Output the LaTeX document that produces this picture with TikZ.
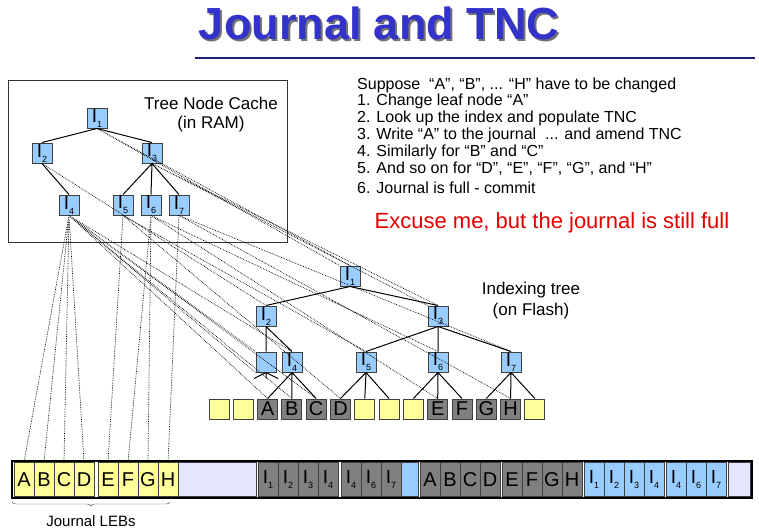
\documentclass[tikz,border=0pt]{standalone}
\usepackage{fontspec}
\setmainfont{Liberation Sans}
\usetikzlibrary{decorations.pathreplacing}
\definecolor{nb}{HTML}{99CCFF}
\definecolor{ly}{HTML}{FFFF99}
\definecolor{lv}{HTML}{E6E6FF}
\definecolor{gr}{HTML}{808080}
\definecolor{tb}{HTML}{3333CC}
\newcommand{\Ix}[1]{\fontsize{19}{19}\selectfont I\raisebox{-5pt}{\fontsize{9}{9}\selectfont #1}}
\tikzset{
 tn/.style={draw=black!75,line width=1pt,fill=nb,minimum width=20pt,minimum height=20pt,inner sep=0pt},
 lf/.style={draw=black!75,line width=1pt,fill=#1,minimum width=20pt,minimum height=20pt,inner sep=0pt,font=\fontsize{20}{20}\selectfont},
 cl/.style={draw=black!75,line width=1pt,fill=#1,minimum width=20pt,minimum height=34pt,inner sep=0pt,font=\fontsize{20}{20}\selectfont},
 dl/.style={densely dotted,line width=0.7pt},
 tx/.style={font=\fontsize{16}{18}\selectfont,anchor=west,inner sep=0pt},
 tl/.style={line width=1pt}
}
\begin{document}
\begin{tikzpicture}[x=1pt,y=-1pt]
\useasboundingbox (0,0) rectangle (759,530);
\node[text=black!55] at (381,25) {\fontsize{45}{45}\selectfont\bfseries Journal and TNC};
\node (title) [text=tb] at (379,23) {\fontsize{45}{45}\selectfont\bfseries Journal and TNC};
\draw[tb!60!black,line width=1.5pt] (195,58) -- (755,58);
% TNC box
\draw[black!80,line width=1pt] (8,80) rectangle (287,242);
\node at (211,103) {\fontsize{17}{17}\selectfont Tree Node Cache};
\node at (211,124) {\fontsize{17}{17}\selectfont (in RAM)};
\node[tn] (c1) at (97,118) {\Ix1};
\node[tn] (c2) at (42,153) {\Ix2};
\node[tn] (c3) at (152,153) {\Ix3};
\node[tn] (c4) at (69,205) {\Ix4};
\node[tn] (c5) at (123,205) {\Ix5};
\node[tn] (c6) at (151,205) {\Ix6};
\node[tn] (c7) at (179,205) {\Ix7};
\draw[tl] (c1.south) -- (c2.north) (c1.south) -- (c3.north) (c2.south) -- (c4.north)
 (c3.south) -- (c5.north) (c3.south) -- (c6.north) (c3.south) -- (c7.north);
% text
\node[tx] at (357,85) {Suppose ~“A”, “B”, ... “H” have to be changed};
\node[tx] at (357,101) {1. Change leaf node “A”};
\node[tx] at (357,118) {2. Look up the index and populate TNC};
\node[tx] at (357,135) {3. Write “A” to the journal ~... and amend TNC};
\node[tx] at (357,152) {4. Similarly for “B” and “C”};
\node[tx] at (357,169) {5. And so on for “D”, “E”, “F”, “G”, and “H”};
\node[tx] at (357,188) {6. Journal is full - commit};
\node[text=red!90!black] at (552,223) {\fontsize{22}{22}\selectfont Excuse me, but the journal is still full};
\node at (531,290) {\fontsize{17}{17}\selectfont Indexing tree};
\node at (531,311) {\fontsize{17}{17}\selectfont (on Flash)};
% flash tree
\node[tn] (f1) at (350,276) {\Ix1};
\node[tn] (f2) at (266,316) {\Ix2};
\node[tn] (f3) at (438,316) {\Ix3};
\node[tn] (f0) at (266,362) {};
\node[tn] (f4) at (292,362) {\Ix4};
\node[tn] (f5) at (366,362) {\Ix5};
\node[tn] (f6) at (438,362) {\Ix6};
\node[tn] (f7) at (511,362) {\Ix7};
\foreach \i/\c/\t in {1/ly/,2/ly/,3/gr/A,4/gr/B,5/gr/C,6/gr/D,7/ly/,8/ly/,9/ly/,10/gr/E,11/gr/F,12/gr/G,13/gr/H,14/ly/}
  \node[lf=\c] (l\i) at ({219+24.3*(\i-1)},409) {\t};
\draw[tl] (f1.south) -- (f2.north) (f1.south) -- (f3.north) (f2.south) -- (f0.north) (f2.south) -- (f4.north)
 (f3.south) -- (f5.north) (f3.south) -- (f6.north) (f3.south) -- (f7.north)
 (f4.south) -- (l3.north) (f4.south) -- (l4.north) (f4.south) -- (l5.north)
 (f5.south) -- (l6.north) (f5.south) -- (l7.north) (f5.south) -- (l8.north)
 (f6.south) -- (l9.north) (f6.south) -- (l10.north) (f6.south) -- (l11.north)
 (f7.south) -- (l12.north) (f7.south) -- (l13.north) (f7.south) -- (l14.north);
\draw[tl] (f0.south) -- ++(-12,6) (f0.south) -- ++(12,6) (f0.south) -- ++(0,6);
% dotted links TNC -> flash
\draw[dl] (c1.south) -- (f1.north) (c1.south) -- (f1.north west);
\draw[dl] (c2.south) -- (f2.north) (c3.south) -- (f3.north) (c3.south) -- (f3.north west);
\draw[dl] (c4.south) -- (f0.north west) (c4.south) -- (f0.south west) (c4.south) -- (f4.north) (c4.south) -- (l3.north) (c4.south) -- (l4.north) (c4.south) -- (l5.north);
\draw[dl] (c5.south) -- (f5.north) (c5.south) -- (l6.north);
\draw[dl] (c6.south) -- (f6.north) (c6.south) -- (l10.north) (c7.south) -- (f7.north) (c7.south) -- (l13.north);
% bottom strip
\foreach \i/\t in {1/A,2/B,3/C,4/D} \node[cl=ly] (j\i) at ({4+20*\i},479.5) {\t};
\foreach \i/\t in {5/E,6/F,7/G,8/H} \node[cl=ly] (j\i) at ({-14+20*\i+22},479.5) {\t};
\node[draw=black!75,line width=1pt,fill=lv,minimum width=78pt,minimum height=34pt] (e1) at (217,479.5) {};
\foreach \i/\n in {1/1,2/2,3/3,4/4} \node[cl=gr] (g\i) at ({248+20*\i},479.5) {\Ix\n};
\foreach \i/\n in {5/4,6/6,7/7} \node[cl=gr] (g\i) at ({251+20*\i},479.5) {\Ix\n};
\node[cl=nb,minimum width=17pt] (b0) at (409.5,479.5) {};
\foreach \i/\t in {1/A,2/B,3/C,4/D} \node[cl=gr] (h\i) at ({410+20*\i},479.5) {\t};
\foreach \i/\t in {5/E,6/F,7/G,8/H} \node[cl=gr] (h\i) at ({412+20*\i},479.5) {\t};
\foreach \i/\n in {1/1,2/2,3/3,4/4} \node[cl=nb] (k\i) at ({574+20*\i},479.5) {\Ix\n};
\foreach \i/\n in {5/4,6/6,7/7} \node[cl=nb] (k\i) at ({576+20*\i},479.5) {\Ix\n};
\node[draw=black!75,line width=1pt,fill=lv,minimum width=22pt,minimum height=34pt] (e2) at (739,479.5) {};
\draw[line width=2.5pt] (12,461) rectangle (752,498);
% dotted TNC -> journal
\draw[dl] (c4.south) -- (j1.north) (c4.south) -- (j2.north) (c4.south) -- (j3.north) (c4.south) -- (j4.north);
\draw[dl] (c5.south) -- (j5.north) (c6.south) -- (j6.north) (c6.south) -- (j7.north) (c7.south) -- (j8.north);
\draw[decorate,decoration={brace,mirror,amplitude=4pt},black!70] (12,502) -- (170,502);
\node (jl) at (91,521) {\fontsize{15}{15}\selectfont Journal LEBs};
\end{tikzpicture}
\end{document}
